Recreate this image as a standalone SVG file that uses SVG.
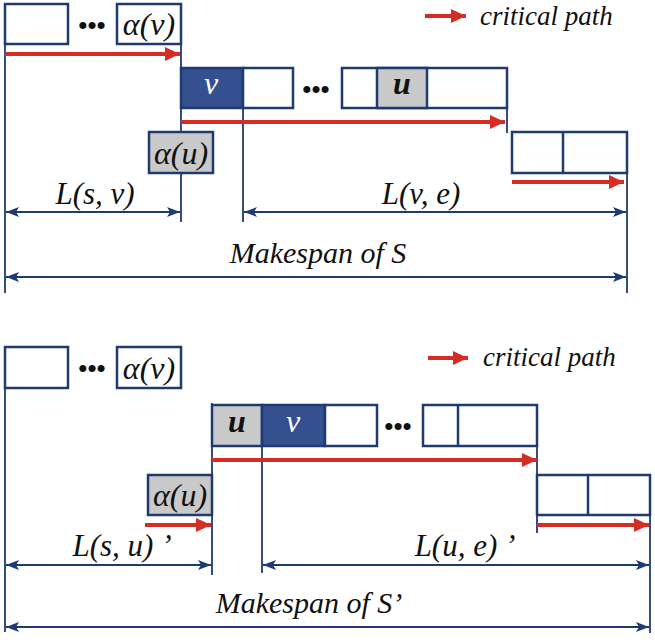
<svg xmlns="http://www.w3.org/2000/svg" width="655" height="643" viewBox="0 0 655 643">
<style>
.box{fill:#fff;stroke:#1f3a72;stroke-width:2.5}
.dark{fill:#34508e;stroke:#1f3a72;stroke-width:2.5}
.grey{fill:#c9c9c9;stroke:#1f3a72;stroke-width:2.5}
.vl{stroke:#1f3a72;stroke-width:1.8;fill:none}
.div{stroke:#1f3a72;stroke-width:2.5;fill:none}
.dim{stroke:#1f3a72;stroke-width:2;fill:none;marker-start:url(#dh);marker-end:url(#dh)}
.red{stroke:#d42e24;stroke-width:4;fill:none;marker-end:url(#rh)}
.t{font-family:"Liberation Serif","Times New Roman",serif;font-style:italic;fill:#111}
.lbl{font-size:31px;text-anchor:middle}
.al{font-size:32px;text-anchor:middle}
.ms{font-size:30px;text-anchor:middle}
.cp{font-size:27px}
.in{font-size:32px;text-anchor:middle;font-weight:bold}
.iv{font-size:32px;text-anchor:middle;fill:#fff}
.dots{font-family:"Liberation Sans",Arial,sans-serif;font-size:26px;fill:#111;text-anchor:middle}
</style>
<defs>
<marker id="rh" markerUnits="userSpaceOnUse" markerWidth="16" markerHeight="16" viewBox="0 0 16 16" refX="15" refY="8" orient="auto">
<path d="M0,1 L15,8 L0,15 Z" fill="#d42e24"/>
</marker>
<marker id="dh" markerUnits="userSpaceOnUse" markerWidth="14" markerHeight="12" viewBox="0 0 14 12" refX="13" refY="6" orient="auto-start-reverse">
<path d="M0,1 L13,6 L0,11 L3,6 Z" fill="#1f3a72"/>
</marker>
</defs>

<g id="connectors">
<line class="vl" x1="5" y1="44" x2="5" y2="293"/>
<line class="vl" x1="181" y1="44" x2="181" y2="222"/>
<line class="vl" x1="243" y1="108" x2="243" y2="222"/>
<line class="vl" x1="507" y1="108" x2="507" y2="133"/>
<line class="vl" x1="627" y1="173" x2="627" y2="293"/>
<line class="red" x1="5" y1="54" x2="180" y2="54"/>
<line class="red" x1="181" y1="122" x2="505" y2="122"/>
<line class="red" x1="512" y1="182" x2="624" y2="182"/>
<line class="red" x1="425" y1="16" x2="466" y2="16"/>
<line class="dim" x1="6" y1="212" x2="180" y2="212"/>
<line class="dim" x1="244" y1="212" x2="626" y2="212"/>
<line class="dim" x1="6" y1="277" x2="626" y2="277"/>
<line class="vl" x1="5" y1="388" x2="5" y2="632"/>
<line class="vl" x1="212" y1="403" x2="212" y2="575"/>
<line class="vl" x1="262" y1="445" x2="262" y2="573"/>
<line class="vl" x1="537" y1="447" x2="537" y2="533"/>
<line class="vl" x1="650" y1="514" x2="650" y2="633"/>
<line class="red" x1="212" y1="460" x2="537" y2="460"/>
<line class="red" x1="145" y1="525" x2="211" y2="525"/>
<line class="red" x1="537" y1="525" x2="649" y2="525"/>
<line class="red" x1="428" y1="358" x2="468" y2="358"/>
<line class="dim" x1="6" y1="565" x2="211" y2="565"/>
<line class="dim" x1="263" y1="565" x2="649" y2="565"/>
<line class="dim" x1="6" y1="627" x2="649" y2="627"/>
</g>

<g id="s-first"><rect class="box" x="5" y="4" width="63" height="40"/></g>
<text class="dots" x="92" y="34">•••</text>
<g id="s-alpha-v"><rect class="box" x="117" y="4" width="64" height="40"/><text class="t al" x="149" y="35">α(v)</text></g>
<g id="s-v"><rect class="dark" x="181" y="68" width="62" height="40"/><text class="t iv" x="211" y="94">v</text></g>
<g id="s-next"><rect class="box" x="243" y="68" width="50" height="40"/></g>
<text class="dots" x="316" y="98">•••</text>
<g id="s-group"><rect class="box" x="342" y="68" width="165" height="40"/><rect class="grey" x="377" y="68" width="50" height="40"/><text class="t in" x="402" y="94">u</text></g>
<g id="s-alpha-u"><rect class="grey" x="149" y="132" width="64" height="41"/><text class="t al" x="181" y="164">α(u)</text></g>
<g id="s-last"><rect class="box" x="512" y="132" width="115" height="41"/><line class="div" x1="563" y1="132" x2="563" y2="173"/></g>
<g id="s-legend"><text class="t cp" x="480" y="25">critical path</text></g>
<text class="t lbl" x="95" y="204">L(s, v)</text>
<text class="t lbl" x="421" y="204">L(v, e)</text>
<text class="t ms" x="318" y="263">Makespan of S</text>

<g id="b-first"><rect class="box" x="5" y="347" width="63" height="41"/></g>
<text class="dots" x="92" y="377">•••</text>
<g id="b-alpha-v"><rect class="box" x="117" y="347" width="64" height="41"/><text class="t al" x="149" y="379">α(v)</text></g>
<g id="b-u"><rect class="grey" x="212" y="405" width="50" height="41"/><text class="t in" x="237" y="432">u</text></g>
<g id="b-v"><rect class="dark" x="262" y="405" width="63" height="41"/><text class="t iv" x="293" y="432">v</text></g>
<g id="b-next"><rect class="box" x="325" y="405" width="52" height="41"/></g>
<text class="dots" x="398" y="435">•••</text>
<g id="b-group"><rect class="box" x="423" y="405" width="114" height="41"/><line class="div" x1="458" y1="405" x2="458" y2="446"/></g>
<g id="b-alpha-u"><rect class="grey" x="148" y="475" width="64" height="40"/><text class="t al" x="180" y="506">α(u)</text></g>
<g id="b-last"><rect class="box" x="537" y="475" width="113" height="40"/><line class="div" x1="588" y1="475" x2="588" y2="515"/></g>
<g id="b-legend"><text class="t cp" x="483" y="366">critical path</text></g>
<text class="t lbl" x="122" y="556">L(s, u) ’</text>
<text class="t lbl" x="465" y="556">L(u, e) ’</text>
<text class="t ms" x="309" y="613">Makespan of S’</text>
</svg>
